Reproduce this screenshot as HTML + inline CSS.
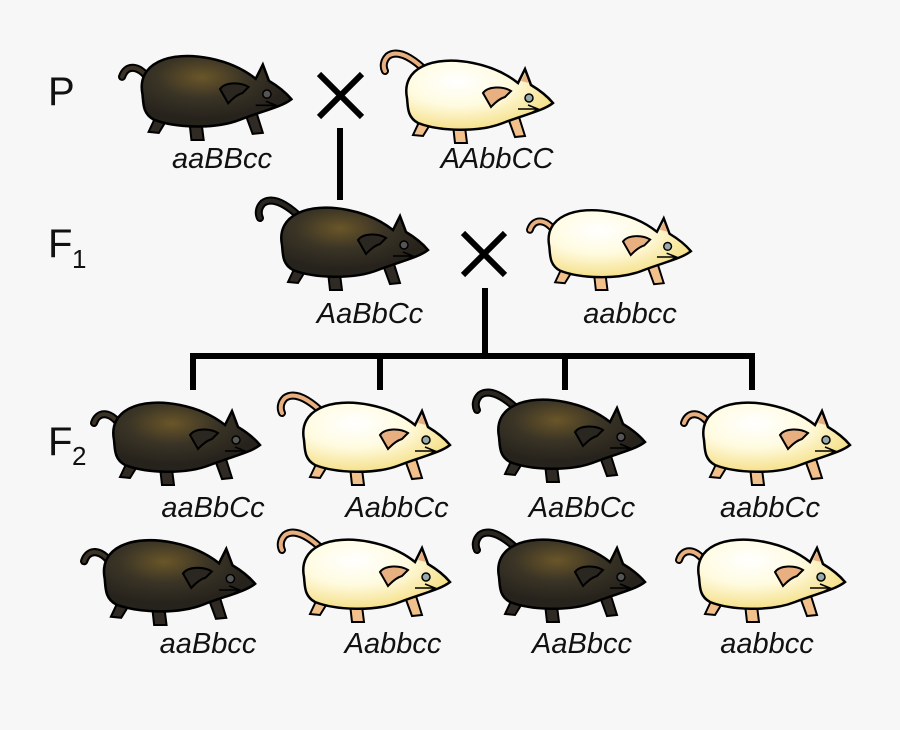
<!DOCTYPE html>
<html><head><meta charset="utf-8"><style>
html,body{margin:0;padding:0;background:#f7f7f7;}
svg{display:block;}
text{font-family:"Liberation Sans",sans-serif;fill:#111;}
.g{font-style:italic;font-size:29px;text-anchor:middle;}
</style></head><body>
<svg width="900" height="730" viewBox="0 0 900 730" xmlns="http://www.w3.org/2000/svg">
<defs>
<radialGradient id="dg" cx="0.4" cy="0.3" r="0.6"><stop offset="0" stop-color="#6a5628"/><stop offset="0.5" stop-color="#3a3426"/><stop offset="1" stop-color="#26221c"/></radialGradient>
<radialGradient id="lg" cx="0.35" cy="0.3" r="0.7"><stop offset="0" stop-color="#ffffff"/><stop offset="0.5" stop-color="#fffbe0"/><stop offset="1" stop-color="#f5e08a"/></radialGradient>
<g id="dbody">
 <g fill="#2f2b24" stroke="#000" stroke-width="2">
  <path d="M38,75 L30,92 L40,93 L48,80 Z"/>
  <path d="M70,82 L72,100 L84,100 L82,84 Z"/>
  <path d="M125,75 L132,94 L142,93 L136,74 Z"/>
 </g>
 <path d="M24,55 C18,25 50,12 90,20 C110,24 125,32 135,40 L142,26 L148,42 C158,48 165,54 170,60 C160,68 140,72 120,80 C95,90 55,88 35,80 C24,74 25,64 24,55 Z" fill="url(#dg)" stroke="#000" stroke-width="2.5"/>
 <path d="M100,50 C105,43 120,43 128,48 L122,54 C115,56 110,62 108,64 Z" fill="#2a2620" stroke="#000" stroke-width="2"/>
 <circle cx="146" cy="55" r="4" fill="#555" stroke="#000" stroke-width="1.5"/>
 <path d="M135,66 L155,66 M145,62 L155,66 L148,70" stroke="#000" stroke-width="1.5" fill="none"/>
</g>
<g id="lbody">
 <g fill="#f2c08a" stroke="#000" stroke-width="2">
  <path d="M38,75 L30,92 L40,93 L48,80 Z"/>
  <path d="M70,82 L72,100 L84,100 L82,84 Z"/>
  <path d="M125,75 L132,94 L142,93 L136,74 Z"/>
 </g>
 <path d="M24,55 C18,25 50,12 90,20 C110,24 125,32 135,40 L142,26 L148,42 C158,48 165,54 170,60 C160,68 140,72 120,80 C95,90 55,88 35,80 C24,74 25,64 24,55 Z" fill="url(#lg)" stroke="#000" stroke-width="2.5"/>
 <path d="M100,50 C105,43 120,43 128,48 L122,54 C115,56 110,62 108,64 Z" fill="#e8b080" stroke="#000" stroke-width="2"/>
 <path d="M142,30 L146,40 L138,38 Z" fill="#e8b080"/>
 <circle cx="146" cy="55" r="4" fill="#9aa" stroke="#000" stroke-width="1.5"/>
 <path d="M135,66 L155,66 M145,62 L155,66 L148,70" stroke="#000" stroke-width="1.5" fill="none"/>
</g>
<g id="ds"><path d="M30,40 C20,26 8,26 4,38" stroke="#000" stroke-width="8" fill="none" stroke-linecap="round"/><path d="M30,40 C20,26 8,26 4,38" stroke="#3a3326" stroke-width="4" fill="none" stroke-linecap="round"/><use href="#dbody"/></g>
<g id="dl"><path d="M45,30 C30,15 15,6 5,13 C0,18 0,24 2,28" stroke="#000" stroke-width="8" fill="none" stroke-linecap="round"/><path d="M45,30 C30,15 15,6 5,13 C0,18 0,24 2,28" stroke="#2a2620" stroke-width="4" fill="none" stroke-linecap="round"/><use href="#dbody"/></g>
<g id="ls"><path d="M30,40 C20,26 8,26 4,38" stroke="#000" stroke-width="8" fill="none" stroke-linecap="round"/><path d="M30,40 C20,26 8,26 4,38" stroke="#e8b080" stroke-width="4" fill="none" stroke-linecap="round"/><use href="#lbody"/></g>
<g id="ll"><path d="M45,30 C30,15 15,6 5,13 C0,18 0,24 2,28" stroke="#000" stroke-width="8" fill="none" stroke-linecap="round"/><path d="M45,30 C30,15 15,6 5,13 C0,18 0,24 2,28" stroke="#e8b080" stroke-width="4" fill="none" stroke-linecap="round"/><use href="#lbody"/></g>
</defs>

<text x="48" y="105" font-size="40">P</text>
<text x="48" y="257" font-size="40">F</text><text x="72" y="268" font-size="26">1</text>
<text x="48" y="455" font-size="40">F</text><text x="72" y="465" font-size="26">2</text>

<g stroke="#000" stroke-width="6" fill="none">
 <path d="M319,74 L362,117 M362,74 L319,117"/>
 <path d="M463,233 L505,275 M505,233 L463,275"/>
 <path d="M340,128 V200"/>
 <path d="M485,288 V355"/>
 <path d="M193,356 H752 M193,353 V390 M380,353 V390 M565,353 V390 M752,353 V390"/>
</g>

<use href="#ds" transform="translate(118,38) scale(1.02)"/>
<use href="#ll" transform="translate(383,43)"/>
<use href="#dl" transform="translate(258,190)"/>
<use href="#ls" transform="translate(526,193) scale(0.97)"/>

<use href="#ds" transform="translate(90,385)"/>
<use href="#ll" transform="translate(280,385)"/>
<use href="#dl" transform="translate(475,382)"/>
<use href="#ls" transform="translate(680,385)"/>

<use href="#ds" transform="translate(80,522) scale(1.03)"/>
<use href="#ll" transform="translate(280,522)"/>
<use href="#dl" transform="translate(475,522)"/>
<use href="#ls" transform="translate(675,522)"/>

<text class="g" x="222" y="168">aaBBcc</text>
<text class="g" x="497" y="168">AAbbCC</text>
<text class="g" x="370" y="323">AaBbCc</text>
<text class="g" x="630" y="323">aabbcc</text>
<text class="g" x="213" y="517">aaBbCc</text>
<text class="g" x="397" y="517">AabbCc</text>
<text class="g" x="582" y="517">AaBbCc</text>
<text class="g" x="770" y="517">aabbCc</text>
<text class="g" x="208" y="653">aaBbcc</text>
<text class="g" x="393" y="653">Aabbcc</text>
<text class="g" x="582" y="653">AaBbcc</text>
<text class="g" x="767" y="653">aabbcc</text>
</svg>
</body></html>
